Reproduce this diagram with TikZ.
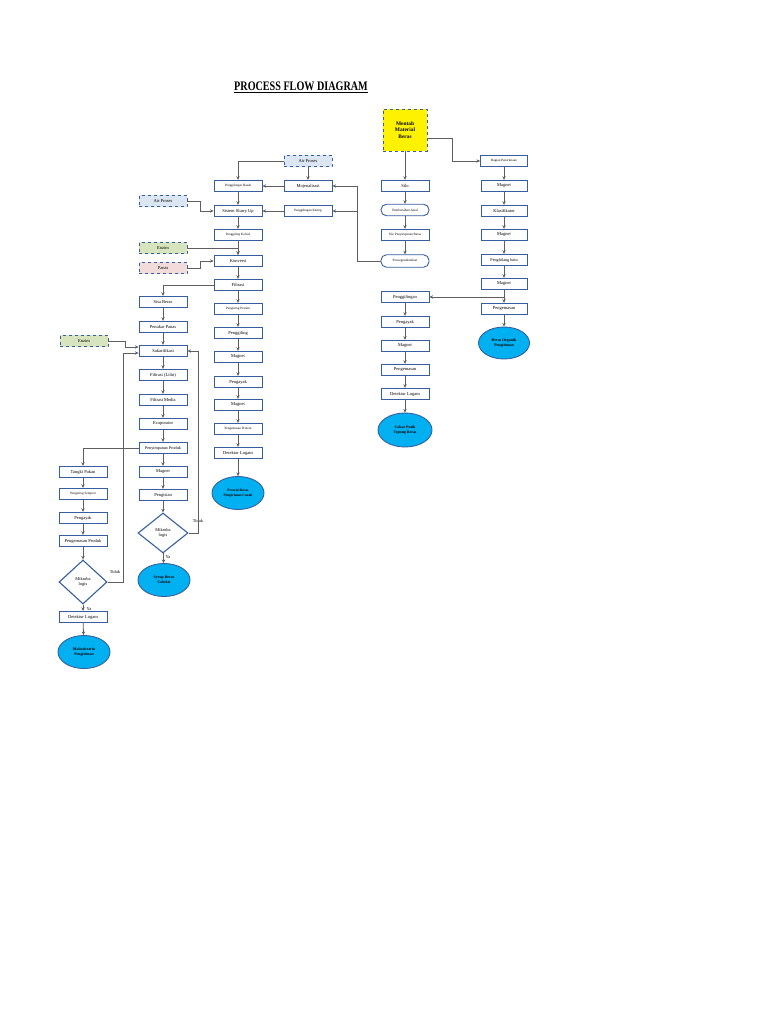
\documentclass[tikz,border=0pt]{standalone}
\usepackage{fontspec}
\setmainfont{Liberation Serif}
\usetikzlibrary{shapes.geometric,arrows.meta}
\definecolor{bd}{RGB}{55,95,160}
\definecolor{cy}{RGB}{0,176,240}
\definecolor{ln}{RGB}{95,95,95}
\definecolor{inblue}{RGB}{220,230,242}
\definecolor{ingreen}{RGB}{215,228,189}
\definecolor{inpink}{RGB}{242,220,219}
\tikzset{
 box/.style={draw=bd, line width=0.9pt, fill=white, minimum width=48pt, minimum height=11.5pt, inner sep=0pt, font=\fontsize{4.5}{5}\selectfont},
 sbox/.style={box, font=\fontsize{3.3}{4}\selectfont},
 stad/.style={box, rounded corners=5.5pt},
 inbox/.style={draw=bd, dashed, line width=0.9pt, minimum width=48pt, minimum height=11.5pt, inner sep=0pt, font=\fontsize{4.5}{5}\selectfont},
 term/.style={ellipse, draw=bd, line width=0.9pt, fill=cy, minimum width=52pt, minimum height=33pt, inner sep=0pt, align=center, font=\bfseries\fontsize{3.9}{5}\selectfont},
 dec/.style={diamond, draw=bd, line width=1.1pt, fill=white, minimum width=50pt, minimum height=40pt, inner sep=0pt, align=center, font=\fontsize{4.4}{5.8}\selectfont},
 arr/.style={draw=ln, line width=0.8pt, -{Stealth[length=3.6pt,width=3.4pt]}},
 lbl/.style={font=\fontsize{4.4}{5}\selectfont, inner sep=0pt},
}
\begin{document}
\begin{tikzpicture}[x=1pt,y=-1pt]
\useasboundingbox[fill=white] (0,0) rectangle (768,1024);
% title
\node[inner sep=0pt] (title) at (301,87) {\scalebox{0.78}[1]{\fontsize{13}{14}\selectfont\bfseries\underline{PROCESS FLOW DIAGRAM}}};

% column A
\node[inbox, fill=ingreen] (enzA) at (84,341) {Enzim};
\node[box] (tangki) at (83,472) {Tangki Pakan};
\node[sbox] (semprot) at (83,494) {Pengering Semprot};
\node[box] (ayakA) at (83,518) {Pengayak};
\node[box] (kemasA) at (83,541) {Pengemasan Produk};
\node[dec, minimum width=48pt, minimum height=44pt] (decA) at (83,582) {Mikroba\\logis};
\node[box] (detA) at (83,617) {Detektor Logam};
\node[term] (endA) at (84,652) {Maltodextrin\\Pengiriman};

% column B
\node[inbox, fill=inblue] (air1) at (163,201) {Air Proses};
\node[inbox, fill=ingreen] (enz1) at (163,248) {Enzim};
\node[inbox, fill=inpink] (panas) at (163,268) {Panas};
\node[box] (sisa) at (163,302) {Sisa Beras};
\node[box] (tukar) at (163,327) {Penukar Panas};
\node[box] (sakar) at (163,351) {Sakarifikasi};
\node[box] (lilin) at (163,375) {Filtrasi (Lilin)};
\node[box] (media) at (163,400) {Filtrasi Media};
\node[box] (evap) at (163,424) {Evaporator};
\node[box, font=\fontsize{4.2}{5}\selectfont] (simpan) at (163,448) {Penyimpanan Produk};
\node[box] (magB) at (163,472) {Magnet};
\node[box] (isi) at (163,495) {Pengisian};
\node[dec] (decB) at (163,533) {Mikroba\\logis};
\node[term] (endB) at (164,580) {Syrup Beras\\Cokelat};

% column C
\node[sbox] (basah) at (238,186) {Penggilingan Basah};
\node[box] (slurry) at (238,211) {Sistem Slurry Up};
\node[sbox] (koloid) at (238,235) {Penggiling Koloid};
\node[box] (konv) at (238,261) {Konversi};
\node[box] (filt) at (238,285) {Filtrasi};
\node[sbox] (pprot) at (238,309) {Pengering Protein};
\node[box] (giling) at (238,333) {Penggiling};
\node[box] (magC1) at (238,357) {Magnet};
\node[box] (ayakC) at (238,382) {Pengayak};
\node[box] (magC2) at (238,405) {Magnet};
\node[sbox] (kemasC) at (238,429) {Pengemasan Protein};
\node[box] (detC) at (238,453) {Detektor Logam};
\node[term, font=\bfseries\fontsize{3.6}{4.8}\selectfont] (endC) at (238,493) {Protein Beras\\Pengiriman Curah};

% column D
\node[inbox, fill=inblue] (air2) at (308,161) {Air Proses};
\node[box] (mojen) at (308,186) {Mojenalisasi};
\node[sbox] (kering) at (308,211) {Penggilingan Kering};

% column E
\node[draw=bd, dashed, line width=0.9pt, fill=yellow, minimum width=44pt, minimum height=42pt, inner sep=0pt, align=center, font=\bfseries\fontsize{5.4}{6.8}\selectfont] (mentah) at (405,130) {Mentah\\Material\\Beras};
\node[box] (silo) at (405,186) {Silo};
\node[stad, font=\fontsize{3.4}{4}\selectfont] (bersih) at (405,210) {Pembersihan Awal};
\node[sbox] (silo2) at (405,235) {Silo Penyimpanan Beras};
\node[stad, minimum height=12.5pt, font=\fontsize{3.4}{4}\selectfont] (cege) at (405,261) {Pencegendersikan};
\node[box] (gilingE) at (405,297) {Penggilingan};
\node[box] (ayakE) at (405,322) {Pengayak};
\node[box] (magE) at (405,346) {Magnet};
\node[box] (kemasE) at (405,370) {Pengemasan};
\node[box] (detE) at (405,394) {Detektor Logam};
\node[term, minimum width=54pt, minimum height=34pt] (endE) at (405,430) {Cakar Putih\\Tepung Beras};

% column F
\node[sbox, minimum width=47pt] (bagian) at (504,161) {Bagian Penerimaan};
\node[box, minimum width=46pt] (magF1) at (504,186) {Magnet};
\node[box, minimum width=46pt] (klas) at (504,211) {Klasifikator};
\node[box, minimum width=46pt] (magF2) at (504,235) {Magnet};
\node[box, minimum width=46pt, font=\fontsize{4.2}{5}\selectfont] (batu) at (504,260) {Penghilang batu};
\node[box, minimum width=46pt] (magF3) at (504,284) {Magnet};
\node[box, minimum width=46pt] (kemasF) at (504,309) {Pengemasan};
\node[term, minimum width=51pt, minimum height=32pt] (endF) at (504,343) {Beras Organik\\Pengiriman};

% labels
\node[lbl] (tidakA) at (115,572) {Tidak};
\node[lbl] (tidakB) at (198,521) {Tidak};
\node[lbl] (yaA) at (89,609) {Ya};
\node[lbl] (yaB) at (168,557) {Ya};

% bend coordinates
\coordinate (jF) at (504,297);
\coordinate (jD) at (357,211);

% connectors column A
\draw[arr] (simpan.west) -| (tangki.north);
\draw[arr] (tangki) -- (semprot);
\draw[arr] (semprot) -- (ayakA);
\draw[arr] (ayakA) -- (kemasA);
\draw[arr] (kemasA) -- (decA);
\draw[arr] (decA) -- (detA);
\draw[arr] (detA) -- (endA);
\draw[arr] (decA.east) -- (123,582) |- ([yshift=-2pt]sakar.west);
\draw[arr] (enzA.east) -- (125,341) |- ([yshift=4pt]sakar.west);

% column B
\draw[arr] (filt.west) -| (sisa.north);
\draw[arr] (sisa) -- (tukar);
\draw[arr] (tukar) -- (sakar);
\draw[arr] (sakar) -- (lilin);
\draw[arr] (lilin) -- (media);
\draw[arr] (media) -- (evap);
\draw[arr] (evap) -- (simpan);
\draw[arr] (simpan) -- (magB);
\draw[arr] (magB) -- (isi);
\draw[arr] (isi) -- (decB);
\draw[arr] (decB) -- (endB);
\draw[arr] (decB.east) -- (198,533) |- (sakar.east);

% column C
\draw[arr] (air2.west) -| (basah.north);
\draw[arr] (air2) -- (mojen);
\draw[arr] (mojen) -- (basah);
\draw[arr] (kering) -- (slurry);
\draw[arr] (basah) -- (slurry);
\draw[arr] (air1.east) -- (200,201) |- (slurry.west);
\draw[arr] (slurry) -- (koloid);
\draw[arr] (koloid) -- (konv);
\draw[arr] (enz1.east) -| (konv.north);
\draw[arr] (panas.east) -- (200,268) |- (konv.west);
\draw[arr] (konv) -- (filt);
\draw[arr] (filt) -- (pprot);
\draw[arr] (pprot) -- (giling);
\draw[arr] (giling) -- (magC1);
\draw[arr] (magC1) -- (ayakC);
\draw[arr] (ayakC) -- (magC2);
\draw[arr] (magC2) -- (kemasC);
\draw[arr] (kemasC) -- (detC);
\draw[arr] (detC) -- (endC);

% column E
\draw[arr] (cege.west) -- (357,261) |- (mojen.east);
\draw[arr] (jD) -- (kering.east);
\draw[arr] (mentah) -- (silo);
\draw[arr] (silo) -- (bersih);
\draw[arr] (bersih) -- (silo2);
\draw[arr] (silo2) -- (cege);
\draw[arr] (gilingE) -- (ayakE);
\draw[arr] (ayakE) -- (magE);
\draw[arr] (magE) -- (kemasE);
\draw[arr] (kemasE) -- (detE);
\draw[arr] (detE) -- (endE);

% column F
\draw[arr] ([yshift=-8pt]mentah.east) -- (452,138) |- (bagian.west);
\draw[arr] (bagian) -- (magF1);
\draw[arr] (magF1) -- (klas);
\draw[arr] (klas) -- (magF2);
\draw[arr] (magF2) -- (batu);
\draw[arr] (batu) -- (magF3);
\draw[arr] (magF3) -- (kemasF);
\draw[arr] (jF) -- (gilingE.east);
\draw[arr] (kemasF) -- (endF);
\end{tikzpicture}
\end{document}
